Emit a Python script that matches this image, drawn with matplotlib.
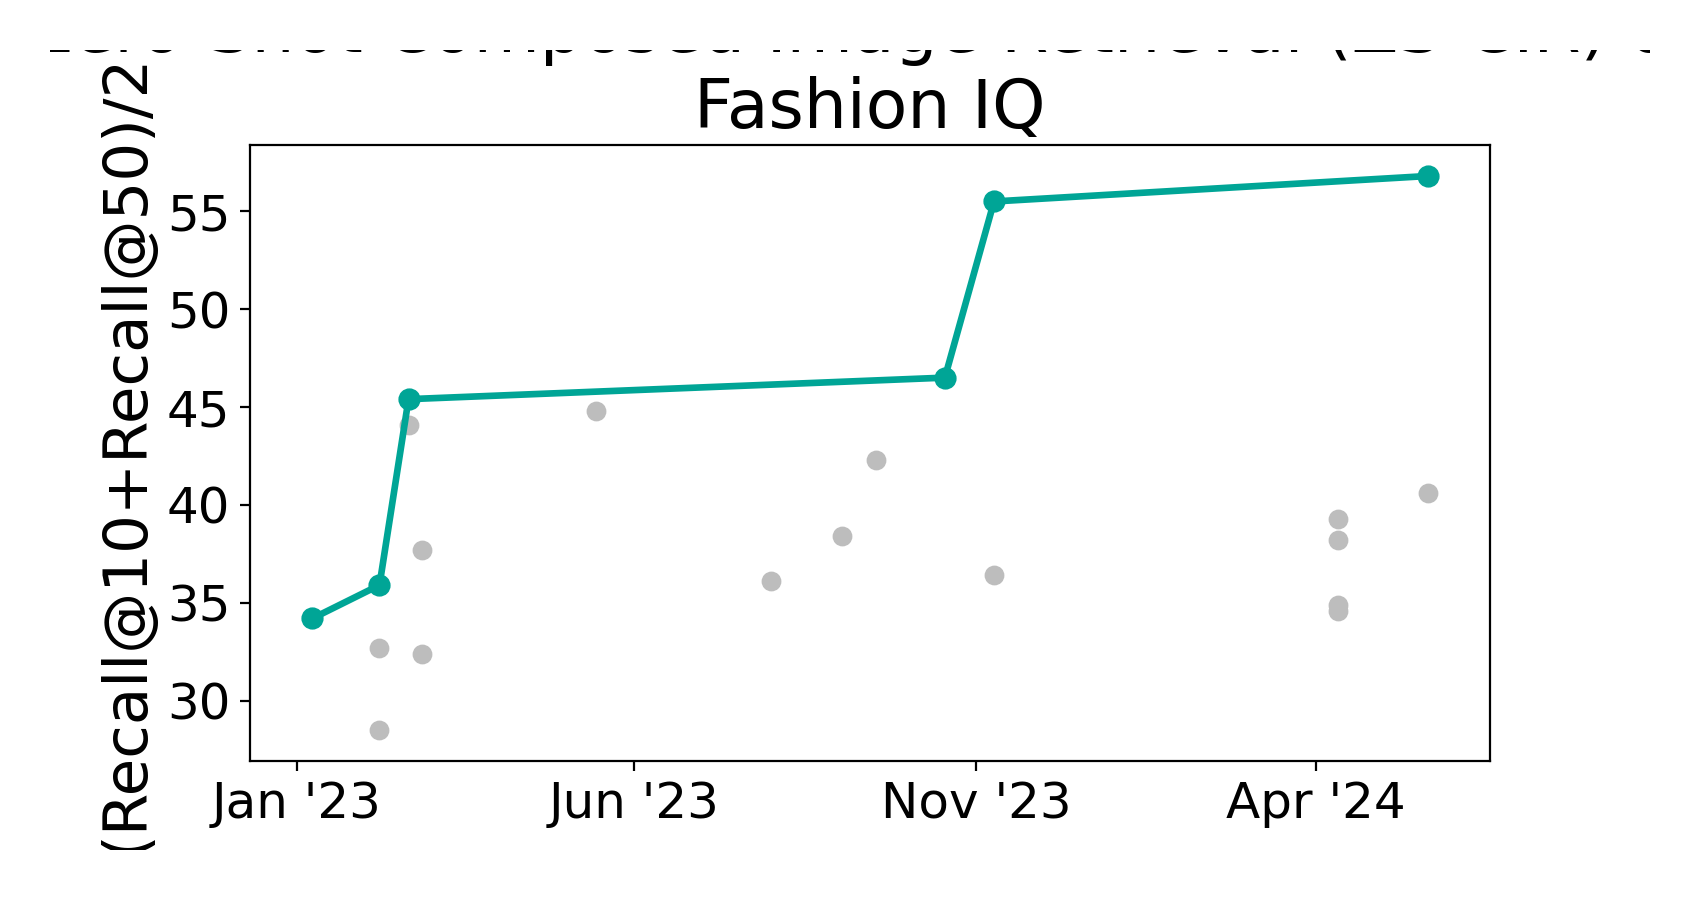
import matplotlib
matplotlib.use("Agg")
import matplotlib.pyplot as plt
from matplotlib.patches import Rectangle
import pandas as pd

# State-of-the-art progression (teal line)
sota_dates = ["2023-01-08", "2023-02-07", "2023-02-20", "2023-10-18", "2023-11-09", "2024-05-21"]
sota_values = [34.2, 35.9, 45.4, 46.5, 55.5, 56.8]

# Other methods (grey dots)
other_dates = ["2023-02-07", "2023-02-07", "2023-02-20", "2023-02-26", "2023-02-26",
               "2023-05-15", "2023-08-01", "2023-09-02", "2023-09-17", "2023-11-09",
               "2024-04-11", "2024-04-11", "2024-04-11", "2024-04-11", "2024-05-21"]
other_values = [32.7, 28.5, 44.1, 37.7, 32.4,
                44.8, 36.1, 38.4, 42.3, 36.4,
                39.3, 38.2, 34.9, 34.6, 40.6]

tick_dates = ["2023-01-01", "2023-06-01", "2023-11-01", "2024-04-01"]
tick_labels = ["Jan '23", "Jun '23", "Nov '23", "Apr '24"]
y_ticks = [30, 35, 40, 45, 50, 55]

title = "Zero-Shot Composed Image Retrieval (ZS-CIR) on\nFashion IQ"
ylabel = "(Recall@10+Recall@50)/2"

W, H = 1700, 900
fig = plt.figure(figsize=(8.5, 4.5), dpi=200)
ax = fig.add_axes([250 / W, 1 - 761 / H, (1490 - 250) / W, (761 - 145) / H])

ax.scatter(pd.to_datetime(other_dates), other_values, s=40, color="#bdbdbd",
           edgecolors="#bdbdbd", linewidths=0.8, zorder=2)
ax.plot(pd.to_datetime(sota_dates), sota_values, color="#00a596", linewidth=2.4,
        marker="o", markersize=7, zorder=3)
ax.margins(0.056)

ax.set_xticks(pd.to_datetime(tick_dates))
ax.set_xticklabels(tick_labels)
ax.set_yticks(y_ticks)
ax.tick_params(axis="both", labelsize=18)

ax.set_title(title, fontsize=24.5)
ax.set_ylabel(ylabel, fontsize=22)

# the chart sits on a canvas with a 50 px white margin that clips overflowing text
m = 50
for (x0, y0, w, h) in [(0, 0, W, m), (0, H - m, W, m), (0, 0, m, H), (W - m, 0, m, H)]:
    fig.patches.append(Rectangle((x0 / W, y0 / H), w / W, h / H, transform=fig.transFigure,
                                 facecolor="white", edgecolor="none", zorder=100))

fig.savefig("out.png", dpi=200)
